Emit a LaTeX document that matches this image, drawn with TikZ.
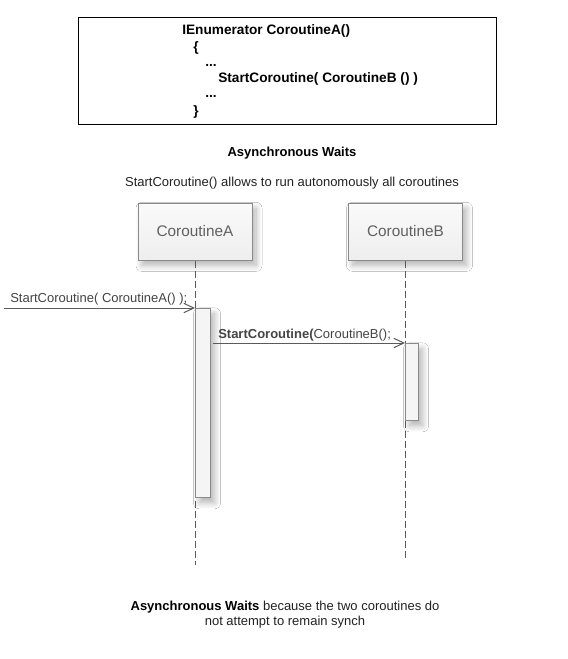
\documentclass[tikz,border=0pt]{standalone}
\usepackage{fontspec}
\setmainfont{Liberation Sans}
\usetikzlibrary{arrows.meta,shadows.blur}
\definecolor{lineg}{HTML}{5A5A5A}
\definecolor{boxdraw}{HTML}{8A8A8A}
\definecolor{boxfill}{HTML}{F5F5F5}
\definecolor{boxtop}{HTML}{FAFAFA}
\definecolor{boxbot}{HTML}{EEEEEE}
\definecolor{lbltext}{HTML}{606060}
\definecolor{msgtext}{HTML}{444444}
\definecolor{captext}{HTML}{222222}
\tikzset{
  softshadow/.style={blur shadow={shadow xshift=3pt, shadow yshift=-4pt, shadow blur steps=12, shadow opacity=30, shadow blur radius=4.5pt}},
  lifebox/.style={draw=boxdraw, line width=0.75pt, top color=boxtop, bottom color=boxbot, minimum width=114*0.75pt, minimum height=57*0.75pt, inner sep=0pt, font=\fontsize{11.5}{13}\selectfont, text=lbltext, softshadow},
  actbox/.style={draw=boxdraw, line width=0.75pt, fill=boxfill, inner sep=0pt, anchor=north west, softshadow},
  lifeline/.style={draw=lineg, line width=0.75pt, dash pattern=on 5.25pt off 2.25pt},
  msg/.style={draw=lineg, line width=0.75pt, -{Straight Barb[length=7.5pt,width=7pt]}},
  msglabel/.style={font=\fontsize{9.75}{11}\selectfont, text=msgtext, inner sep=0pt, anchor=base west},
  codetext/.style={font=\fontsize{10.25}{12}\selectfont\bfseries, inner sep=0pt, anchor=base west},
  caption/.style={font=\fontsize{9.75}{12}\selectfont, text=captext, inner sep=0pt, anchor=base},
}
\begin{document}
\begin{tikzpicture}[x=0.75pt,y=-0.75pt]
\fill[white] (0,0) rectangle (567,659);
\useasboundingbox (0,0) rectangle (567,659);
% code box
\node[draw=black, line width=1pt, anchor=north west, minimum width=418*0.75pt, minimum height=107*0.75pt, inner sep=0pt] (code) at (78,17) {};
\node[codetext] (c1) at (182,35) {IEnumerator CoroutineA()};
\node[codetext] (c2) at (193,52) {\{};
\node[codetext] (c3) at (205,67) {...};
\node[codetext] (c4) at (218,83) {StartCoroutine( CoroutineB () )};
\node[codetext] (c5) at (205,98) {...};
\node[codetext] (c6) at (193,116) {\}};
% titles
\node[caption, font=\fontsize{9.75}{12}\selectfont\bfseries, text=black] (title) at (292,157) {Asynchronous Waits};
\node[caption] (sub) at (292,187) {StartCoroutine() allows to run autonomously all coroutines};
% lifeline heads
\node[lifebox] (A) at (195,231.5) {CoroutineA};
\node[lifebox] (B) at (405.5,231.5) {CoroutineB};
\coordinate (Aend) at (195,565);
\coordinate (Bend) at (405.5,558);
\draw[lifeline] (A.south) -- (Aend);
\draw[lifeline] (B.south) -- (Bend);
% activations
\node[actbox, minimum width=15*0.75pt, minimum height=189*0.75pt] (actA) at (195,308) {};
\node[actbox, minimum width=13*0.75pt, minimum height=77*0.75pt] (actB) at (405,343) {};
% messages
\coordinate (m1s) at (4,308);
\draw[msg] (m1s) -- (actA.north west);
\node[msglabel] (l1) at (10,302) {StartCoroutine( CoroutineA() );};
\coordinate (m2s) at ([xshift=1.5pt]actA.east |- actB.north west);
\draw[msg] (m2s) -- (actB.north west);
\node[msglabel] (l2) at (218,338) {\textbf{StartCoroutine(}CoroutineB();};
% bottom caption
\node[caption] (b1) at (285,610) {\textbf{\color{black}Asynchronous Waits} because the two coroutines do};
\node[caption] (b2) at (285,625) {not attempt to remain synch};
\end{tikzpicture}
\end{document}
